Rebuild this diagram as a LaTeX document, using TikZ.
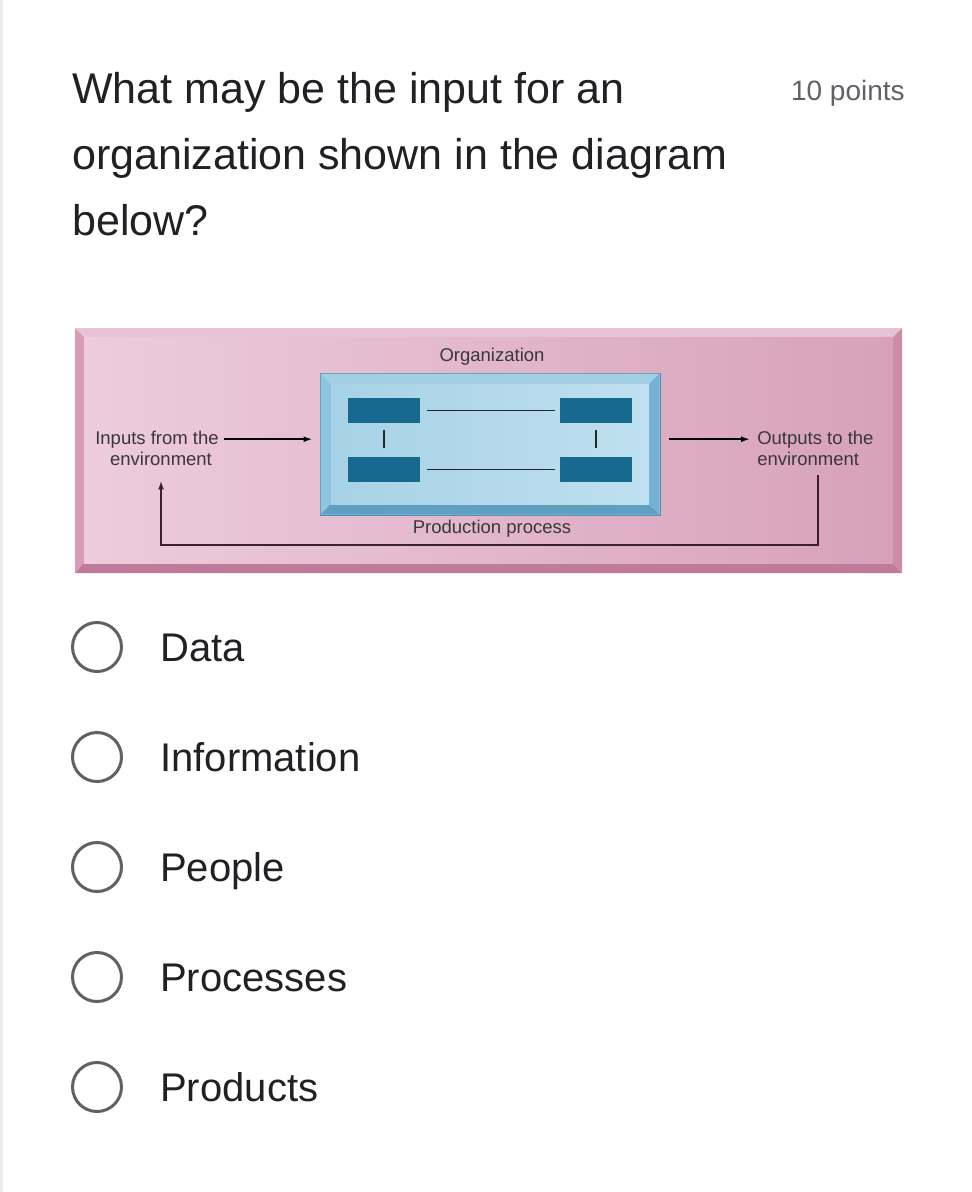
\documentclass[tikz,border=0pt]{standalone}
\usepackage{fontspec}
\setmainfont{Liberation Sans}
\usetikzlibrary{positioning,arrows.meta}

\definecolor{inktext}{HTML}{202124}
\definecolor{greytext}{HTML}{5F6368}
\definecolor{radioring}{HTML}{616161}
\definecolor{pinklite}{HTML}{EDCCDC}
\definecolor{pinkdeep}{HTML}{D7A1BA}
\definecolor{pinktop}{HTML}{E8C3D5}
\definecolor{pinkleft}{HTML}{D99BB8}
\definecolor{pinkbot}{HTML}{C07A9A}
\definecolor{pinkright}{HTML}{CB8CAA}
\definecolor{bluelite}{HTML}{BFE0EF}
\definecolor{bluemid}{HTML}{A7D2E6}
\definecolor{bluetop}{HTML}{A3CFE4}
\definecolor{blueleft}{HTML}{8EC4DE}
\definecolor{bluebot}{HTML}{5E9FC2}
\definecolor{blueright}{HTML}{73B2D2}
\definecolor{blueedge}{HTML}{4F8FB3}
\definecolor{blockblue}{HTML}{17698F}
\definecolor{loopline}{HTML}{3A2030}

\begin{document}
\begin{tikzpicture}[x=1pt,y=-1pt,>={Latex[length=9pt,width=6pt]},semithick,
    question/.style={anchor=base west,inner sep=0pt,text=inktext,font=\fontsize{43}{50}\selectfont},
    answer/.style={anchor=base west,inner sep=0pt,text=inktext,font=\fontsize{40}{46}\selectfont},
    radio/.style={circle,draw=radioring,line width=3pt,minimum size=49pt,inner sep=0pt},
    small/.style={inner sep=0pt,text=black!78,font=\fontsize{18.5}{21}\selectfont},
    block/.style={fill=blockblue,minimum width=72pt,minimum height=25pt,inner sep=0pt},
    link/.style={draw=black!85,line width=1.8pt},
    flow/.style={->,draw=black,line width=1.8pt}]

\useasboundingbox (0,0) rectangle (972,1192);
\fill[white] (0,0) rectangle (972,1192);
\draw[line width=3pt,black!8] (1.5,0) -- (1.5,1192);

% question
\node[question] (q1) at (72,103) {What may be the input for an};
\node[question] (q2) at (72,169) {organization shown in the diagram};
\node[question] (q3) at (72,235) {below?};
\node[anchor=base east,inner sep=0pt,text=greytext,font=\fontsize{28}{34}\selectfont] (pts) at (905,100) {10 points};

% pink panel with bevel
\fill[pinktop] (75,328) -- (902,328) -- (893,337) -- (84,337) -- cycle;
\fill[pinkleft] (75,328) -- (84,337) -- (84,563) -- (75,573) -- cycle;
\fill[pinkbot] (75,573) -- (84,563) -- (893,563) -- (902,573) -- cycle;
\fill[pinkright] (902,328) -- (893,337) -- (893,563) -- (902,573) -- cycle;
\shade[left color=pinklite,right color=pinkdeep] (84,337) rectangle (893,563);

% production process box with bevel
\node[draw=blueedge,line width=1pt,fill=bluemid,minimum width=340pt,minimum height=142pt,inner sep=0pt] (org) at (490,444) {};
\fill[bluetop] (320.5,373.5) -- (659.5,373.5) -- (649,384) -- (331,384) -- cycle;
\fill[blueleft] (320.5,373.5) -- (331,384) -- (331,504) -- (320.5,514.5) -- cycle;
\fill[bluebot] (320.5,514.5) -- (331,504) -- (649,504) -- (659.5,514.5) -- cycle;
\fill[blueright] (659.5,373.5) -- (649,384) -- (649,504) -- (659.5,514.5) -- cycle;
\shade[left color=bluemid,right color=bluelite] (331,384) rectangle (649,504);

\node[block] (b1) at (384,410.5) {};
\node[block] (b2) at (596,410.5) {};
\node[block] (b3) at (384,469.5) {};
\node[block] (b4) at (596,469.5) {};

\draw[link,shorten <=7pt,shorten >=5pt] (b1) -- (b2);
\draw[link,shorten <=7pt,shorten >=5pt] (b3) -- (b4);
\draw[link,line width=2.4pt,shorten <=7pt,shorten >=9pt] (b1) -- (b3);
\draw[link,line width=2.4pt,shorten <=7pt,shorten >=9pt] (b2) -- (b4);

\node[small,anchor=base] (orgname) at (492,361) {Organization};
\node[small,anchor=base] (procname) at (492,533) {Production process};

% environment labels
\node[small,anchor=base west] (inA) at (95,444) {Inputs from the};
\node[small,anchor=base] (inB) at (161,465) {environment};
\node[small,anchor=base west] (outA) at (757,444) {Outputs to the};
\node[small,anchor=base west] (outB) at (757,465) {environment};
\coordinate (fbstart) at (818,475);

\draw[flow,shorten <=5pt,shorten >=7pt] (inA.east) -- (inA.east -| org.west);
\draw[flow,shorten <=8pt,shorten >=7pt] (outA.west -| org.east) -- (outA.west);
\draw[->,draw=loopline,line width=1.8pt,shorten >=15pt] (fbstart) -- ++(0,70) -| (inB.south);

% choices
\foreach \txt [count=\i] in {Data,Information,People,Processes,Products} {
    \node[radio] (r\i) at (97,{537+110*\i}) {};
    \node[answer] (a\i) at (160,{551+110*\i}) {\txt};
}

\end{tikzpicture}
\end{document}
